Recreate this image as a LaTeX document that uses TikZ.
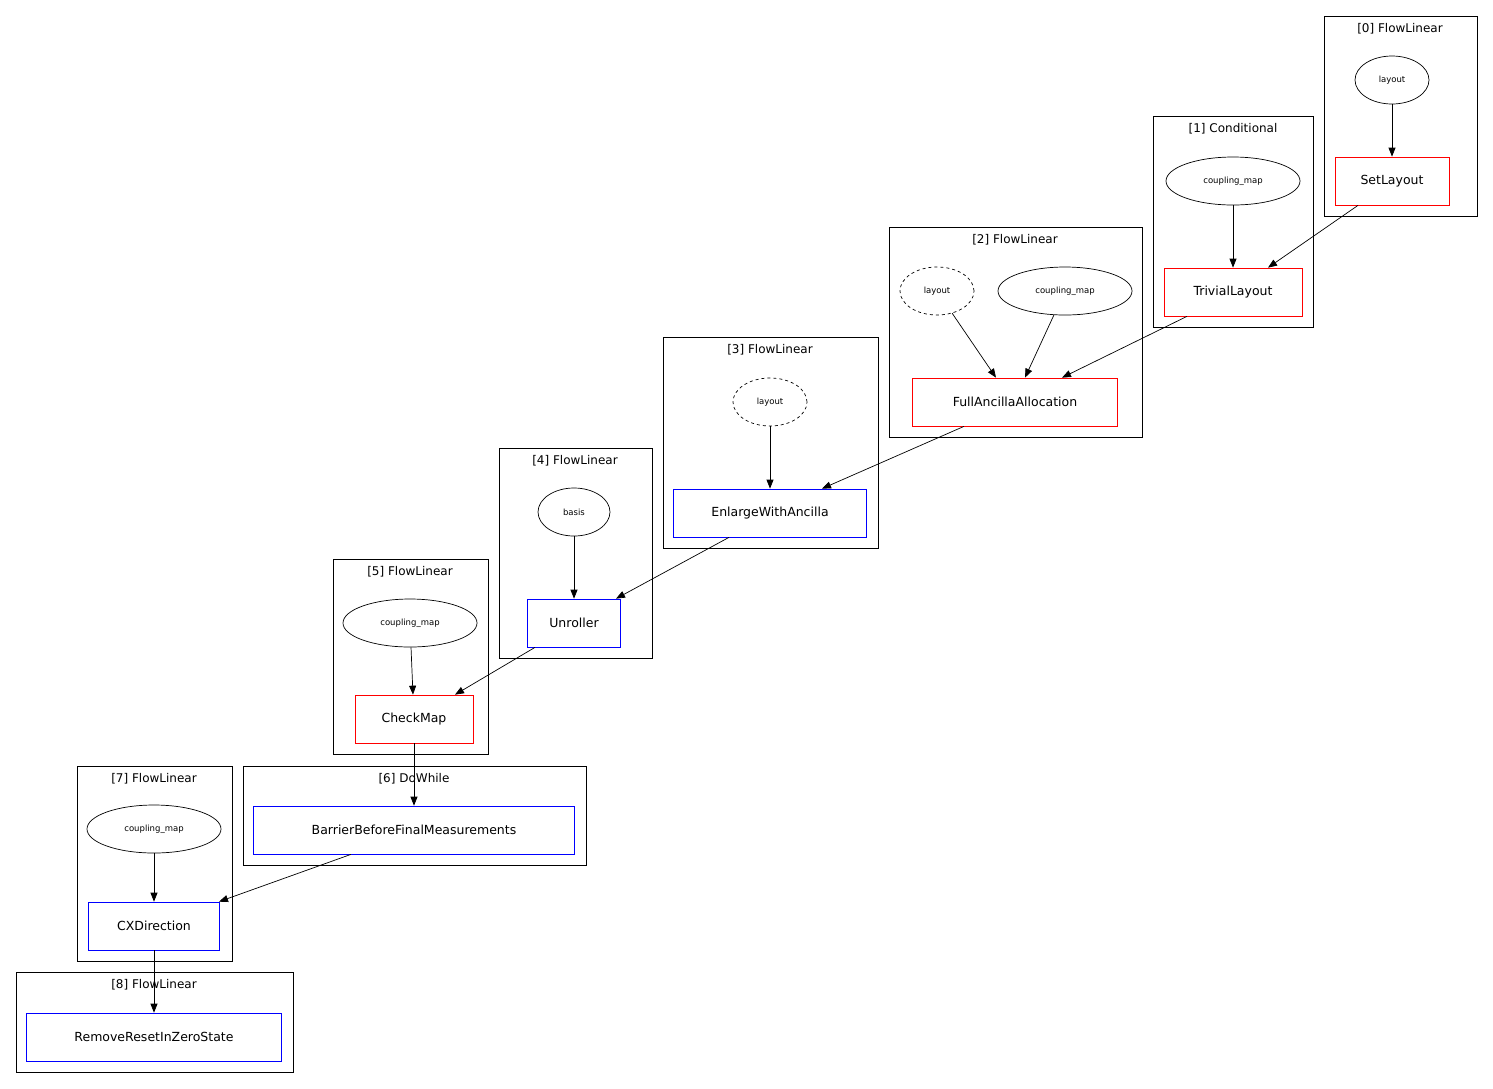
\documentclass[tikz,border=0pt]{standalone}
\usepackage{fontspec}
\setmainfont{DejaVu Sans}
\usetikzlibrary{arrows.meta,shapes.geometric}
\begin{document}
\begin{tikzpicture}[x=1pt,y=-1pt,
  clus/.style={draw,line width=0.8pt},
  ctitle/.style={font=\fontsize{12}{14}\selectfont,anchor=center},
  pbox/.style={draw,rectangle,minimum height=48pt,inner sep=0pt,font=\fontsize{12.5}{14}\selectfont,line width=0.7pt},
  redb/.style={pbox,draw=red},
  blueb/.style={pbox,draw=blue},
  ell/.style={draw,ellipse,minimum height=48pt,inner sep=0pt,font=\fontsize{8.5}{10}\selectfont,line width=0.7pt},
  dell/.style={ell,dashed},
  arr/.style={-{Triangle[length=9pt,width=7pt]},line width=0.7pt}]
\useasboundingbox (0,0) rectangle (1493,1088);
% clusters
\draw[clus] (1324,16) rectangle (1477,216); \node[ctitle] (t0) at (1400,29) {[0] FlowLinear};
\draw[clus] (1153,116) rectangle (1313,327); \node[ctitle] (t1) at (1233,129) {[1] Conditional};
\draw[clus] (889,227) rectangle (1142,437); \node[ctitle] (t2) at (1015,240) {[2] FlowLinear};
\draw[clus] (663,337) rectangle (878,548); \node[ctitle] (t3) at (770,350) {[3] FlowLinear};
\draw[clus] (499,448) rectangle (652,658); \node[ctitle] (t4) at (575,461) {[4] FlowLinear};
\draw[clus] (333,559) rectangle (488,754); \node[ctitle] (t5) at (410,572) {[5] FlowLinear};
\draw[clus] (243,766) rectangle (586,865); \node[ctitle] (t6) at (414,779) {[6] DoWhile};
\draw[clus] (77,766) rectangle (232,961); \node[ctitle] (t7) at (154,779) {[7] FlowLinear};
\draw[clus] (16,972) rectangle (293,1072); \node[ctitle] (t8) at (154,985) {[8] FlowLinear};
% nodes
\node[ell,minimum width=74pt] (l0) at (1392,80) {layout};
\node[redb,minimum width=114pt] (sl) at (1392,181) {SetLayout};
\node[ell,minimum width=134pt] (c1) at (1233,181) {coupling\_map};
\node[redb,minimum width=138pt] (tl) at (1233,292) {TrivialLayout};
\node[dell,minimum width=74pt] (l2) at (937,291) {layout};
\node[ell,minimum width=134pt] (c2) at (1065,291) {coupling\_map};
\node[redb,minimum width=205pt] (fa) at (1015,402) {FullAncillaAllocation};
\node[dell,minimum width=74pt] (l3) at (770,402) {layout};
\node[blueb,minimum width=193pt] (ew) at (770,513) {EnlargeWithAncilla};
\node[ell,minimum width=72pt] (bs) at (574,512) {basis};
\node[blueb,minimum width=93pt] (ur) at (574,623) {Unroller};
\node[ell,minimum width=134pt] (c5) at (410,623) {coupling\_map};
\node[redb,minimum width=118pt] (cm) at (414,719) {CheckMap};
\node[blueb,minimum width=321pt] (bb) at (414,830) {BarrierBeforeFinalMeasurements};
\node[ell,minimum width=134pt] (c7) at (154,829) {coupling\_map};
\node[blueb,minimum width=131pt] (cx) at (154,926) {CXDirection};
\node[blueb,minimum width=255pt] (rr) at (154,1037) {RemoveResetInZeroState};
% edges
\draw[arr] (l0) -- (sl);
\draw[arr] (c1) -- (tl);
\draw[arr] ([xshift=-34pt]sl.south) -- ([xshift=35pt]tl.north);
\draw[arr] (l2) -- ([xshift=-19pt]fa.north);
\draw[arr] (c2) -- ([xshift=10pt]fa.north);
\draw[arr] ([xshift=-46pt]tl.south) -- ([xshift=47pt]fa.north);
\draw[arr] (l3) -- (ew);
\draw[arr] ([xshift=-51pt]fa.south) -- ([xshift=52pt]ew.north);
\draw[arr] (bs) -- (ur);
\draw[arr] ([xshift=-41pt]ew.south) -- ([xshift=42pt]ur.north);
\draw[arr] (c5) -- (cm);
\draw[arr] ([xshift=-39pt]ur.south) -- ([xshift=41pt]cm.north);
\draw[arr] (cm) -- (bb);
\draw[arr] ([xshift=-63pt]bb.south) -- ([xshift=65pt]cx.north);
\draw[arr] (c7) -- (cx);
\draw[arr] (cx) -- (rr);
\end{tikzpicture}
\end{document}
